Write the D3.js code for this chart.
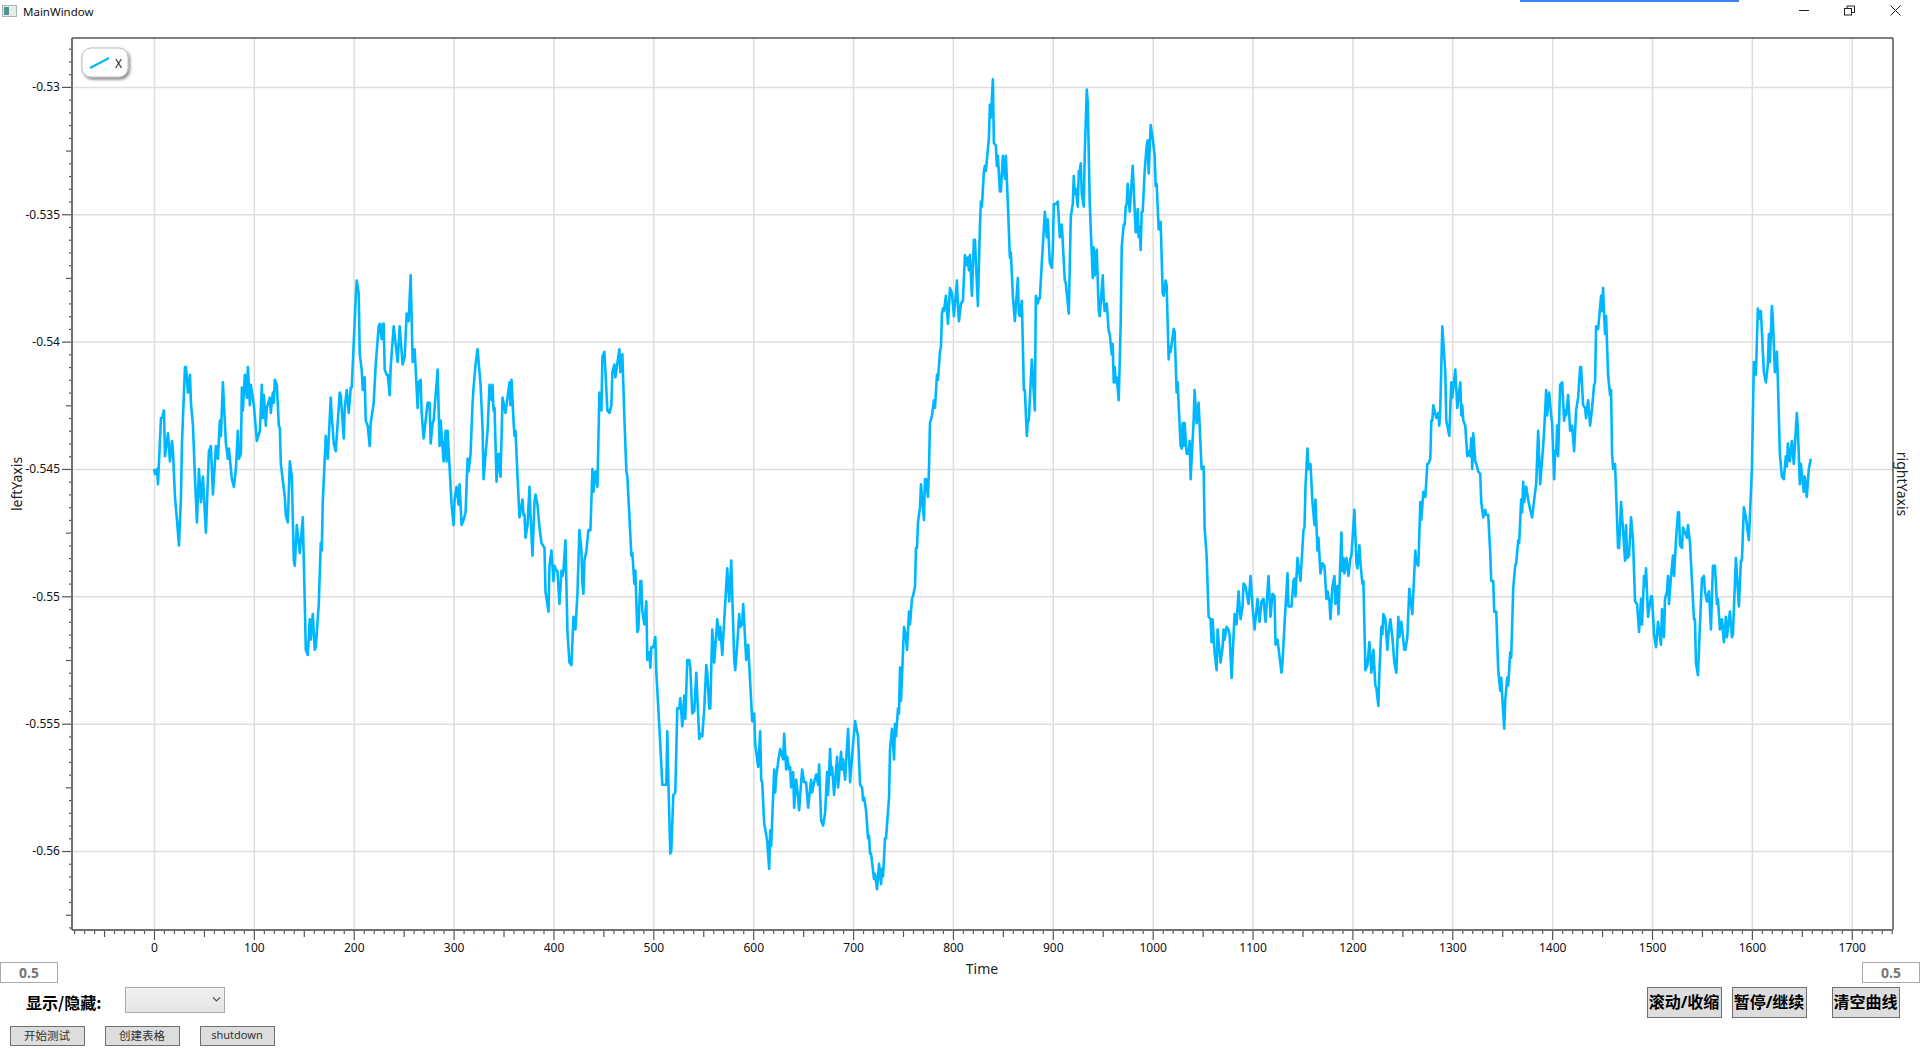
<!DOCTYPE html>
<html>
<head>
<meta charset="utf-8">
<title>MainWindow</title>
<script src="https://cdn.jsdelivr.net/npm/d3@7"></script>
<style>
  html, body { margin: 0; padding: 0; background: #fff; overflow: hidden; }
  svg { display: block; font-family: "Noto Sans", "Noto Sans CJK SC", sans-serif; }
  .axis path { display: none; }
  .axis text { font-size: 12px; fill: #111; font-family: "Noto Sans", sans-serif; }
  .grid line { stroke: #dedede; stroke-width: 1.5; }
  .grid path, .grid text { display: none; }
  .ticks line { stroke: #555; stroke-width: 1.2; }
  .ticks path { display: none; }
</style>
</head>
<body>
<div id="chart"></div>
<script>
// values, [time, x]
const stretch1 = [[0,-0.545],[1,-0.5452],[3,-0.545],[4,-0.5456],[7,-0.543],[8,-0.543],[10,-0.5427],[11,-0.5445],[14,-0.5436],[16,-0.5447],[18,-0.5439],[19,-0.5443],[21,-0.5461],[23,-0.547],[25,-0.548],[27,-0.5461],[28,-0.544],[31,-0.541],[32,-0.541],[34,-0.542],[36,-0.5413],[37,-0.5424],[39,-0.5433],[41,-0.5453],[43,-0.5471],[45,-0.545],[47,-0.5463],[49,-0.5453],[52,-0.5475],[55,-0.5443],[57,-0.5441],[59,-0.546],[62,-0.5441],[64,-0.5446],[66,-0.5431],[67,-0.5437],[69,-0.5416],[72,-0.544],[74,-0.5446],[75,-0.5442],[78,-0.5454],[80,-0.5457],[82,-0.545],[84,-0.5435],[85,-0.5446],[87,-0.5444],[88,-0.5418],[89,-0.5427],[91,-0.5413],[93,-0.5422],[94,-0.541],[96,-0.5425],[97,-0.5417],[100,-0.5425],[103,-0.5439],[106,-0.5435],[108,-0.5417],[109,-0.543],[110,-0.5421],[112,-0.5433],[113,-0.5426],[116,-0.5422],[117,-0.5428],[119,-0.542],[120,-0.5424],[121,-0.5415],[123,-0.5417],[125,-0.5433],[126,-0.5434],[127,-0.5448],[131,-0.5461],[132,-0.5468],[134,-0.5471],[136,-0.5447],[138,-0.5453],[140,-0.5486],[141,-0.5488],[143,-0.5472],[146,-0.5483],[149,-0.5469],[151,-0.5503],[152,-0.5521],[154,-0.5523],[156,-0.5509],[157,-0.5517],[159,-0.5507],[161,-0.5521],[162,-0.552],[165,-0.5503],[167,-0.5479],[168,-0.5482],[169,-0.5463],[172,-0.5437],[174,-0.5446],[177,-0.5422],[178,-0.5429],[180,-0.544],[182,-0.5443],[186,-0.542],[187,-0.5421],[190,-0.5438],[191,-0.5426],[193,-0.5419],[195,-0.5428],[197,-0.5418],[198,-0.5418],[202,-0.5383],[203,-0.5376],[205,-0.5381],[206,-0.5405],[208,-0.5411],[209,-0.5419],[211,-0.5414],[212,-0.5431],[214,-0.5433],[216,-0.5441],[217,-0.5432],[220,-0.5424],[222,-0.5409],[225,-0.5394],[226,-0.5393],[228,-0.5399],[229,-0.5393],[230,-0.5393],[231,-0.5411],[233,-0.5413],[234,-0.5413],[236,-0.5421],[237,-0.541],[240,-0.5394],[242,-0.5401],[244,-0.5408],[246,-0.5394],[249,-0.5409],[251,-0.5406],[253,-0.5389],[255,-0.5392],[257,-0.5374],[259,-0.5408],[261,-0.5403],[264,-0.5426],[265,-0.5416],[267,-0.5415],[268,-0.5428],[270,-0.5438],[272,-0.5431],[274,-0.5424]];
const stretch2 = [[276,-0.5424],[277,-0.544],[279,-0.5432],[280,-0.5431],[284,-0.5411],[286,-0.5441],[287,-0.5431],[290,-0.5447],[292,-0.5435],[293,-0.5447],[294,-0.5435],[298,-0.5464],[300,-0.5472],[301,-0.5462],[303,-0.5457],[305,-0.5464],[306,-0.5456],[308,-0.5472],[310,-0.547],[312,-0.5467],[314,-0.5446],[315,-0.5451],[317,-0.5444],[319,-0.5424],[320,-0.5418],[322,-0.5409],[324,-0.5403],[327,-0.5417],[329,-0.5434],[330,-0.5454],[334,-0.5435],[336,-0.5417],[338,-0.5423],[339,-0.5417],[340,-0.5427],[341,-0.5426],[343,-0.5455],[345,-0.5444],[347,-0.5453],[349,-0.5422],[352,-0.5428],[356,-0.5416],[357,-0.5425],[358,-0.5415],[360,-0.5431],[361,-0.5437],[362,-0.5435],[364,-0.5453],[366,-0.5469],[369,-0.5462],[370,-0.5468],[371,-0.5468],[372,-0.5477],[374,-0.5472],[376,-0.5457],[377,-0.5468],[379,-0.5484],[381,-0.5463],[382,-0.546],[384,-0.5464],[386,-0.5473],[388,-0.5479],[391,-0.5481],[392,-0.5498],[395,-0.5506],[396,-0.5488],[398,-0.5482],[400,-0.5494],[401,-0.5488],[403,-0.549],[404,-0.549],[406,-0.5503],[408,-0.549],[409,-0.5492],[410,-0.549],[412,-0.5478],[414,-0.5514],[416,-0.5526],[418,-0.5527],[420,-0.5508],[422,-0.5513],[424,-0.5499],[426,-0.5474],[428,-0.5482],[429,-0.5495],[430,-0.5499],[431,-0.5486],[433,-0.5482],[435,-0.5474],[437,-0.5474],[438,-0.5462],[439,-0.545],[440,-0.5459],[442,-0.5451],[444,-0.5457],[446,-0.542],[448,-0.5427],[449,-0.5406],[451,-0.5404],[454,-0.5427],[456,-0.5428],[458,-0.5425],[459,-0.5412],[461,-0.5409],[462,-0.5414],[466,-0.5403],[467,-0.5412],[469,-0.5405],[471,-0.543],[473,-0.5451],[474,-0.5453],[478,-0.5484],[479,-0.5483],[481,-0.5495],[482,-0.549],[484,-0.5514],[485,-0.5513],[487,-0.5494],[488,-0.5494],[489,-0.5506],[491,-0.5511],[493,-0.5502],[494,-0.5525],[496,-0.5522],[497,-0.5528],[498,-0.552],[500,-0.552],[502,-0.5516],[503,-0.553],[506,-0.5551],[509,-0.5574],[511,-0.5574],[513,-0.5574],[514,-0.5553],[515,-0.5572],[517,-0.5601],[518,-0.56],[520,-0.5578],[522,-0.5577],[524,-0.5544],[526,-0.5544],[527,-0.554],[529,-0.5551],[531,-0.5539],[532,-0.5548],[534,-0.5525],[536,-0.5525],[537,-0.5528],[539,-0.5546],[541,-0.5545],[543,-0.553],[544,-0.5539],[546,-0.5556],[547,-0.5554],[549,-0.5555],[551,-0.5544],[553,-0.5527],[554,-0.553]];
const stretch3 = [[556,-0.5544],[557,-0.5544],[559,-0.5513],[561,-0.5526],[564,-0.5509],[566,-0.5517],[567,-0.5512],[569,-0.5523],[574,-0.5489],[576,-0.5502],[578,-0.5486],[581,-0.5525],[582,-0.5529],[584,-0.5519],[586,-0.5507],[587,-0.5512],[589,-0.5511],[590,-0.5503],[593,-0.5525],[595,-0.5519],[599,-0.5549],[601,-0.5546],[602,-0.5558],[605,-0.5567],[607,-0.5553],[608,-0.5572],[609,-0.5573],[611,-0.5589],[614,-0.5596],[616,-0.5607],[617,-0.5592],[618,-0.5598],[621,-0.5568],[622,-0.5577],[623,-0.5571],[625,-0.5565],[627,-0.556],[630,-0.5564],[631,-0.5554],[633,-0.5568],[634,-0.5563],[636,-0.5568],[637,-0.5567],[638,-0.5575],[640,-0.5569],[641,-0.5583],[643,-0.5572],[645,-0.5579],[646,-0.5584],[648,-0.5573],[649,-0.5568],[651,-0.5573],[653,-0.5573],[655,-0.5583],[658,-0.5572],[659,-0.5577],[661,-0.5573],[663,-0.557],[665,-0.5574],[666,-0.5566],[668,-0.5588],[670,-0.559],[672,-0.5585],[674,-0.5569],[675,-0.5578],[677,-0.556],[678,-0.557],[679,-0.5567],[681,-0.5578],[684,-0.5563],[685,-0.5575],[688,-0.5561],[689,-0.5568],[690,-0.5564],[692,-0.5572],[695,-0.5552],[697,-0.5573],[700,-0.5558],[702,-0.5549],[705,-0.5555],[707,-0.5574],[709,-0.5575],[710,-0.558],[711,-0.5579],[713,-0.5584],[715,-0.5595],[716,-0.5594],[717,-0.5601],[718,-0.5601],[721,-0.5611],[722,-0.5609],[724,-0.5615],[726,-0.5605],[728,-0.5613],[729,-0.5607],[730,-0.561],[732,-0.5595],[733,-0.5595],[736,-0.5579],[737,-0.556],[739,-0.5552],[741,-0.5564],[742,-0.555],[743,-0.5555],[745,-0.5544],[746,-0.5546],[747,-0.5528],[748,-0.5541],[751,-0.5512],[753,-0.5516],[754,-0.5521],[756,-0.5506],[757,-0.5511],[759,-0.5501],[760,-0.55],[762,-0.5496],[763,-0.5481],[764,-0.5481],[765,-0.5471],[767,-0.5465],[768,-0.5456],[771,-0.547],[772,-0.5454],[773,-0.5454],[775,-0.5461]];
const stretch4 = [[776,-0.545],[777,-0.5432],[779,-0.5429],[781,-0.5423],[782,-0.5426],[784,-0.5413],[785,-0.5415],[787,-0.5404],[788,-0.5402],[789,-0.5389],[790,-0.5387],[791,-0.5388],[793,-0.5382],[795,-0.5393],[797,-0.5379],[799,-0.5381],[801,-0.539],[804,-0.5376],[805,-0.5386],[806,-0.5392],[808,-0.5385],[810,-0.5384],[812,-0.5366],[814,-0.537],[815,-0.5367],[816,-0.5372],[817,-0.5366],[819,-0.5382],[821,-0.536],[822,-0.536],[825,-0.5386],[827,-0.5355],[828,-0.5345],[829,-0.5347],[831,-0.5333],[832,-0.5331],[833,-0.5333],[836,-0.532],[837,-0.5307],[838,-0.5312],[840,-0.5297],[841,-0.5322],[843,-0.5323],[844,-0.5331],[845,-0.5327],[847,-0.5341],[848,-0.5341],[850,-0.5327],[852,-0.5336],[853,-0.5327],[855,-0.5346],[857,-0.5367],[858,-0.5365],[860,-0.5382],[862,-0.5392],[865,-0.5375],[866,-0.5389],[867,-0.539],[869,-0.5384],[871,-0.5419],[872,-0.5419],[874,-0.5437],[875,-0.5431],[876,-0.5431],[879,-0.5407],[882,-0.5427],[883,-0.5382],[885,-0.5385],[886,-0.5383],[887,-0.5383],[889,-0.5369],[891,-0.5356],[892,-0.5349],[894,-0.5359],[895,-0.5352],[897,-0.5369],[899,-0.5371],[900,-0.5364],[901,-0.5346],[903,-0.5346],[905,-0.5345],[907,-0.5359],[908,-0.5357],[909,-0.5354],[912,-0.5376],[913,-0.5377],[916,-0.5389],[918,-0.5351],[920,-0.5346],[921,-0.5335],[922,-0.5342],[923,-0.534],[925,-0.5347],[926,-0.5333],[927,-0.5333],[928,-0.533],[929,-0.5342],[931,-0.5347],[932,-0.5326],[934,-0.5301],[935,-0.5306],[937,-0.5346],[940,-0.5375],[941,-0.5363],[942,-0.5374],[944,-0.5364],[946,-0.5388],[947,-0.539],[950,-0.5374],[951,-0.5384],[952,-0.5388],[954,-0.5385],[956,-0.5396],[957,-0.5397],[959,-0.5405],[960,-0.5401],[961,-0.5416],[962,-0.541],[963,-0.5416],[964,-0.5414],[966,-0.5423],[968,-0.5392],[969,-0.5363],[971,-0.5354],[972,-0.5354],[973,-0.5347],[974,-0.5346],[975,-0.5338],[977,-0.5349],[980,-0.5331],[983,-0.5357],[984,-0.5357],[985,-0.5348],[986,-0.5359],[987,-0.5355],[988,-0.5364],[989,-0.5349],[990,-0.5349],[992,-0.5333],[994,-0.5323],[995,-0.5321],[996,-0.5334],[998,-0.5315],[1000,-0.532],[1002,-0.5327],[1003,-0.5339],[1004,-0.5338],[1006,-0.5356],[1008,-0.5353],[1010,-0.5381],[1011,-0.5382],[1013,-0.5376],[1014,-0.5378],[1016,-0.5407],[1017,-0.5402],[1018,-0.5404],[1019,-0.5401],[1021,-0.5395],[1022,-0.5396],[1024,-0.542],[1025,-0.5416],[1028,-0.5441],[1029,-0.5442],[1030,-0.5432],[1031,-0.5441],[1032,-0.5432],[1034,-0.5444],[1036,-0.5444],[1037,-0.5439],[1038,-0.5454],[1041,-0.5431],[1042,-0.5419],[1044,-0.5432],[1046,-0.5424],[1049,-0.545],[1051,-0.5449]];
const stretch5 = [[1052,-0.5473],[1054,-0.5484],[1056,-0.5508],[1058,-0.5509],[1059,-0.5518],[1060,-0.5509],[1062,-0.5522],[1064,-0.5529],[1065,-0.5513],[1068,-0.5526],[1070,-0.552],[1071,-0.5513],[1072,-0.5517],[1074,-0.5512],[1076,-0.5513],[1077,-0.5515],[1079,-0.5532],[1082,-0.5507],[1084,-0.5511],[1086,-0.5498],[1088,-0.5509],[1090,-0.5504],[1091,-0.5495],[1093,-0.5496],[1096,-0.5503],[1098,-0.5492],[1100,-0.5504],[1102,-0.5513],[1105,-0.5501],[1107,-0.551],[1109,-0.5502],[1111,-0.5501],[1113,-0.551],[1116,-0.5492],[1118,-0.5508],[1120,-0.5499],[1122,-0.55],[1123,-0.5519],[1125,-0.5517],[1129,-0.553],[1130,-0.5526],[1132,-0.5511],[1135,-0.5491],[1136,-0.5504],[1139,-0.5504],[1141,-0.5494],[1142,-0.5493],[1143,-0.55],[1145,-0.5485],[1148,-0.5494],[1151,-0.5474],[1152,-0.5473],[1153,-0.5457],[1155,-0.5442],[1156,-0.545],[1158,-0.5448],[1160,-0.5463],[1162,-0.5472],[1163,-0.5462],[1165,-0.5482],[1166,-0.5477],[1168,-0.5491],[1170,-0.5487],[1172,-0.5488],[1174,-0.5501],[1175,-0.5498],[1177,-0.5502],[1178,-0.5509],[1180,-0.5496],[1182,-0.5492],[1183,-0.5503],[1185,-0.5496],[1186,-0.5507],[1189,-0.5475],[1190,-0.549],[1191,-0.5485],[1192,-0.5491],[1194,-0.5485],[1196,-0.5492],[1198,-0.5485],[1199,-0.5484],[1202,-0.5466],[1204,-0.5487],[1205,-0.5489],[1207,-0.548],[1208,-0.5487],[1210,-0.5495],[1211,-0.5494],[1213,-0.5529],[1215,-0.5527],[1217,-0.5518],[1219,-0.553],[1221,-0.5521],[1223,-0.5535],[1224,-0.5536],[1226,-0.5543],[1227,-0.553],[1229,-0.5512],[1230,-0.5515],[1231,-0.5507],[1233,-0.5509],[1235,-0.5521],[1236,-0.5515],[1238,-0.5509],[1240,-0.5516],[1242,-0.5526],[1244,-0.553],[1246,-0.5508],[1247,-0.5516],[1249,-0.551],[1252,-0.5521],[1253,-0.5521],[1255,-0.5516],[1257,-0.5497],[1260,-0.5507],[1263,-0.5482],[1264,-0.5487],[1266,-0.5488],[1268,-0.5463],[1269,-0.547],[1271,-0.5459],[1273,-0.5461],[1275,-0.5448],[1276,-0.5448]];
const stretch6 = [[1278,-0.5446],[1279,-0.5431],[1280,-0.5431],[1281,-0.5425],[1284,-0.543],[1286,-0.5428],[1287,-0.5433],[1288,-0.5426],[1290,-0.5394],[1293,-0.5412],[1294,-0.5431],[1297,-0.5437],[1299,-0.5416],[1300,-0.5422],[1303,-0.5411],[1305,-0.5426],[1308,-0.5416],[1309,-0.5429],[1310,-0.5425],[1311,-0.5431],[1313,-0.5433],[1315,-0.5445],[1317,-0.5443],[1318,-0.5445],[1319,-0.5438],[1320,-0.545],[1321,-0.5436],[1323,-0.5447],[1324,-0.5448],[1326,-0.5451],[1328,-0.5452],[1329,-0.5463],[1331,-0.5469],[1333,-0.5466],[1334,-0.5468],[1336,-0.5468],[1338,-0.5483],[1339,-0.5494],[1341,-0.5494],[1342,-0.5506],[1344,-0.5506],[1346,-0.5529],[1348,-0.5537],[1349,-0.5532],[1350,-0.5539],[1352,-0.5552],[1353,-0.5541],[1355,-0.5532],[1356,-0.5535],[1358,-0.5522],[1359,-0.5524],[1361,-0.5497],[1363,-0.5488],[1364,-0.5487],[1366,-0.5478],[1367,-0.5479],[1369,-0.5462],[1370,-0.5467],[1371,-0.5455],[1372,-0.5463],[1374,-0.5457],[1376,-0.5462],[1378,-0.5466],[1380,-0.5469],[1382,-0.5462],[1384,-0.5456],[1386,-0.5435],[1388,-0.5456],[1391,-0.5441],[1392,-0.5435],[1394,-0.5419],[1395,-0.5429],[1397,-0.542],[1399,-0.5429],[1400,-0.5432],[1402,-0.5454],[1403,-0.5443],[1404,-0.5444],[1405,-0.5433],[1406,-0.5445],[1408,-0.5417],[1410,-0.5416],[1412,-0.5431],[1413,-0.5427],[1414,-0.5429],[1416,-0.5421],[1418,-0.5435],[1420,-0.5433],[1422,-0.5443],[1424,-0.5427],[1426,-0.5422],[1428,-0.541],[1429,-0.541],[1431,-0.5425],[1433,-0.5426],[1434,-0.543],[1436,-0.5423],[1438,-0.5433],[1440,-0.5426],[1442,-0.5417],[1443,-0.5416],[1444,-0.5394],[1446,-0.5395],[1447,-0.5391],[1449,-0.5382],[1450,-0.5388],[1451,-0.5379],[1452,-0.5389],[1453,-0.5397],[1454,-0.539],[1456,-0.5413],[1458,-0.5421],[1459,-0.5419],[1460,-0.5444],[1461,-0.545],[1463,-0.5448],[1466,-0.5481],[1467,-0.5481],[1469,-0.5463],[1471,-0.5474],[1473,-0.5486],[1474,-0.5472],[1475,-0.5485],[1477,-0.5484],[1479,-0.5469],[1481,-0.5478],[1483,-0.5502],[1485,-0.5503],[1487,-0.5514],[1489,-0.5501],[1490,-0.5511],[1492,-0.5492],[1493,-0.5496],[1494,-0.5489],[1496,-0.5508],[1499,-0.55],[1500,-0.55],[1502,-0.5515],[1504,-0.552],[1506,-0.551],[1509,-0.5519],[1510,-0.5505],[1512,-0.5516],[1513,-0.5501],[1515,-0.5498],[1516,-0.5492],[1517,-0.5503],[1519,-0.5492],[1521,-0.5484],[1522,-0.5492],[1524,-0.5478],[1526,-0.5467],[1527,-0.5467],[1528,-0.548],[1530,-0.5481],[1531,-0.5473],[1533,-0.5475],[1535,-0.5477],[1536,-0.5472],[1538,-0.5479],[1540,-0.5494],[1542,-0.5509],[1543,-0.5509],[1544,-0.5526],[1546,-0.5531],[1548,-0.5511],[1550,-0.5493],[1552,-0.5492],[1553,-0.5498],[1555,-0.5502],[1557,-0.5498],[1559,-0.5513],[1561,-0.5488],[1563,-0.5488],[1565,-0.5503],[1566,-0.5501],[1568,-0.5513],[1570,-0.5509],[1572,-0.5518],[1574,-0.5508],[1575,-0.5516],[1578,-0.5506],[1580,-0.5516],[1581,-0.5515],[1584,-0.5485],[1587,-0.5504],[1589,-0.5486],[1590,-0.5486],[1592,-0.5465],[1594,-0.5469],[1597,-0.5478],[1600,-0.545],[1602,-0.5408],[1604,-0.5413],[1606,-0.5387],[1608,-0.5391],[1609,-0.5388],[1612,-0.5412],[1614,-0.5416],[1616,-0.5409],[1617,-0.5397],[1618,-0.5408],[1620,-0.5386],[1621,-0.5391],[1623,-0.5412],[1625,-0.5404],[1626,-0.5415],[1628,-0.5444],[1630,-0.5453],[1632,-0.5454],[1634,-0.5445],[1635,-0.5449],[1636,-0.544],[1638,-0.5447],[1640,-0.5439],[1642,-0.5448],[1645,-0.5428],[1646,-0.5434],[1648,-0.5456],[1649,-0.5448],[1652,-0.5459],[1653,-0.5453],[1655,-0.5461],[1657,-0.545],[1659,-0.5446]];
const seriesX = [].concat(stretch1, stretch2, stretch3, stretch4, stretch5, stretch6);

const seriesName = 'X';
const xTicks = d3.range(0, 1701, 100);
const yTicks = [-0.53, -0.535, -0.54, -0.545, -0.55, -0.555, -0.56];
const xDomain = [-82.1, 1741.3];
const yDomain = [-0.56310, -0.52808];

// set the dimensions and margins of the graph
const pageW = 1920, pageH = 1049;
const margin = { top: 38, right: 27, bottom: 119, left: 72 },
    width = pageW - margin.left - margin.right,
    height = pageH - margin.top - margin.bottom;

const lineColor = '#00b7ff';

const svg = d3.select('#chart').append('svg')
    .attr('width', pageW)
    .attr('height', pageH);

const defs = svg.append('defs');
const shadow = defs.append('filter').attr('id', 'shadow')
    .attr('x', '-20%').attr('y', '-20%').attr('width', '150%').attr('height', '160%');
shadow.append('feDropShadow')
    .attr('dx', 1.5).attr('dy', 2).attr('stdDeviation', 1.5)
    .attr('flood-color', '#000').attr('flood-opacity', 0.5);
const comboFill = defs.append('linearGradient').attr('id', 'comboFill')
    .attr('x1', 0).attr('y1', 0).attr('x2', 0).attr('y2', 1);
comboFill.append('stop').attr('offset', 0).attr('stop-color', '#f1f1f1');
comboFill.append('stop').attr('offset', 1).attr('stop-color', '#e4e4e4');

const plot = svg.append('g')
    .attr('transform', 'translate(' + margin.left + ',' + margin.top + ')');

const x = d3.scaleLinear().domain(xDomain).range([0, width]);
const y = d3.scaleLinear().domain(yDomain).range([height, 0]);

// grid
plot.append('g').attr('class', 'grid')
    .call(d3.axisBottom(x).tickValues(xTicks).tickSize(height).tickFormat(''));
plot.append('g').attr('class', 'grid')
    .call(d3.axisRight(y).tickValues(yTicks).tickSize(width).tickFormat(''));

// plot border, top and right
plot.append('line').attr('x1', 0).attr('x2', width).attr('y1', 0).attr('y2', 0)
    .attr('stroke', '#000').attr('stroke-width', 1);
plot.append('line').attr('x1', width).attr('x2', width).attr('y1', 0).attr('y2', height)
    .attr('stroke', '#555').attr('stroke-width', 1.5);

// the curve
plot.append('path')
    .datum(seriesX)
    .attr('fill', 'none')
    .attr('stroke', lineColor)
    .attr('stroke-width', 2.6)
    .attr('stroke-linejoin', 'round')
    .attr('d', d3.line().x(d => x(d[0])).y(d => y(d[1])));

// X ticks: minor every 10, medium every 50, labelled every 100
const xMinor = d3.range(-80, 1741, 10).filter(d => d % 50 !== 0);
const xMedium = d3.range(-50, 1741, 100);
plot.append('g').attr('class', 'ticks').attr('transform', 'translate(0,' + height + ')')
    .call(d3.axisBottom(x).tickValues(xMinor).tickSize(4).tickFormat(''));
plot.append('g').attr('class', 'ticks').attr('transform', 'translate(0,' + height + ')')
    .call(d3.axisBottom(x).tickValues(xMedium).tickSize(7).tickFormat(''));
plot.append('g').attr('class', 'axis ticks').attr('transform', 'translate(0,' + height + ')')
    .call(d3.axisBottom(x).tickValues(xTicks).tickSize(10).tickPadding(3).tickFormat(d3.format('d')));

// Y ticks: minor every 0.0005, medium at the half step, labelled every 0.005
const yMinor = d3.range(-5630, -5280, 5).map(d => d / 1e4).filter(d => Math.round(d * 1e4) % 25 !== 0);
const yMedium = d3.range(-5625, -5280, 50).map(d => d / 1e4);
plot.append('g').attr('class', 'ticks')
    .call(d3.axisLeft(y).tickValues(yMinor).tickSize(3).tickFormat(''));
plot.append('g').attr('class', 'ticks')
    .call(d3.axisLeft(y).tickValues(yMedium).tickSize(6).tickFormat(''));
plot.append('g').attr('class', 'axis ticks')
    .call(d3.axisLeft(y).tickValues(yTicks).tickSize(10).tickPadding(2).tickFormat(d => String(d)));

// axis lines
plot.append('line').attr('x1', 0).attr('x2', 0).attr('y1', 0).attr('y2', height)
    .attr('stroke', '#707070').attr('stroke-width', 2);
plot.append('line').attr('x1', 0).attr('x2', width).attr('y1', height).attr('y2', height)
    .attr('stroke', '#707070').attr('stroke-width', 2);

// axis titles
svg.append('text').attr('x', 982).attr('y', 974).attr('text-anchor', 'middle')
    .attr('font-size', 14).attr('fill', '#222').text('Time');
svg.append('text').attr('transform', 'translate(22,484) rotate(-90)').attr('text-anchor', 'middle')
    .attr('font-size', 14).attr('fill', '#222').text('leftYaxis');
svg.append('text').attr('transform', 'translate(1897,484) rotate(90)').attr('text-anchor', 'middle')
    .attr('font-size', 14).attr('fill', '#222').text('rightYaxis');

// legend
const legend = svg.append('g').attr('transform', 'translate(82,48)');
legend.append('rect').attr('width', 46).attr('height', 29).attr('rx', 9)
    .attr('fill', '#fff').attr('stroke', '#bbb').attr('filter', 'url(#shadow)');
legend.append('line').attr('x1', 8).attr('y1', 20).attr('x2', 27).attr('y2', 10)
    .attr('stroke', lineColor).attr('stroke-width', 2);
legend.append('text').attr('x', 33).attr('y', 20).attr('font-size', 12).attr('fill', '#222').text(seriesName);

// window title bar
const bar = svg.append('g');
bar.append('rect').attr('x', 2.5).attr('y', 5.5).attr('width', 14).attr('height', 11)
    .attr('fill', '#e4ecea').attr('stroke', '#a8b4b4');
bar.append('rect').attr('x', 4).attr('y', 7).attr('width', 5).attr('height', 8).attr('fill', '#4f8f8c');
bar.append('text').attr('x', 23).attr('y', 16).attr('font-size', 11.5).attr('fill', '#111').text('MainWindow');
bar.append('rect').attr('x', 1520).attr('y', 0).attr('width', 219).attr('height', 2).attr('fill', '#3b82f6');
bar.append('line').attr('x1', 1799).attr('x2', 1809).attr('y1', 10.5).attr('y2', 10.5).attr('stroke', '#222');
bar.append('rect').attr('x', 1844.5).attr('y', 8.5).attr('width', 7).attr('height', 6.5).attr('fill', '#fff').attr('stroke', '#222');
bar.append('path').attr('d', 'M1847 8.5V6h7.5v6.5H1852').attr('fill', 'none').attr('stroke', '#222');
bar.append('path').attr('d', 'M1890.5 5.5L1900.5 15.5M1900.5 5.5L1890.5 15.5').attr('stroke', '#222');

// small value boxes under the axis
[[0.5, 57], [1862.5, 57]].forEach(function (b) {
    svg.append('rect').attr('x', b[0]).attr('y', 962.5).attr('width', b[1]).attr('height', 20)
        .attr('fill', '#fff').attr('stroke', '#aaa');
    svg.append('text').attr('x', b[0] + b[1] / 2).attr('y', 978).attr('text-anchor', 'middle')
        .attr('font-size', 14).attr('font-weight', 700).attr('fill', '#777').text('0.5');
});

// show/hide row
svg.append('text').attr('x', 26).attr('y', 1009).attr('font-size', 16).attr('font-weight', 700)
    .attr('fill', '#000').style('font-family', '"Noto Sans CJK SC"').text('显示/隐藏:');
svg.append('rect').attr('x', 125.5).attr('y', 987.5).attr('width', 99).attr('height', 25)
    .attr('fill', 'url(#comboFill)').attr('stroke', '#aaa');
svg.append('path').attr('d', 'M213 997.5l3.5 3.5 3.5-3.5').attr('fill', 'none').attr('stroke', '#555').attr('stroke-width', 1.2);

function button(left, top, w, h, label, size, bold) {
    svg.append('rect').attr('x', left + 0.5).attr('y', top + 0.5).attr('width', w).attr('height', h)
        .attr('fill', '#dddddd').attr('stroke', '#707070');
    svg.append('text').attr('x', left + w / 2).attr('y', top + h / 2 + size * 0.36)
        .attr('text-anchor', 'middle').attr('font-size', size).attr('font-weight', bold ? 700 : 400)
        .attr('fill', bold ? '#000' : '#333').style('font-family', '"Noto Sans", "Noto Sans CJK SC"').text(label);
}
button(10, 1026, 74, 19, '开始测试', 11.5, false);
button(105, 1026, 74, 19, '创建表格', 11.5, false);
button(200, 1026, 74, 19, 'shutdown', 11, false);
button(1647, 987, 74, 30, '滚动/收缩', 16, true);
button(1732, 987, 74, 30, '暂停/继续', 16, true);
button(1832, 987, 67, 30, '清空曲线', 16, true);
</script>
</body>
</html>
